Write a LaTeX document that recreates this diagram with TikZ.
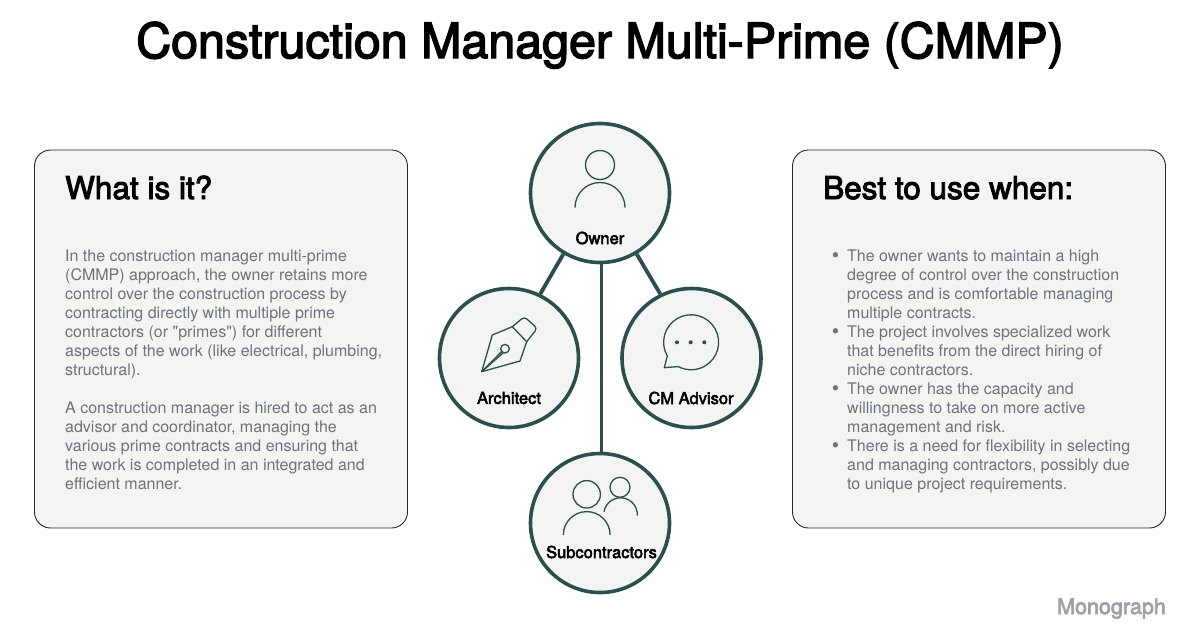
\documentclass[tikz,border=0pt]{standalone}
\usepackage{fontspec}
\usepackage{graphicx}
\setmainfont{TeX Gyre Heros}
\newfontfamily\medfont[FakeBold=3]{TeX Gyre Heros}
\newfontfamily\bodyfont{TeX Gyre Heros}
\usetikzlibrary{backgrounds}
\definecolor{teal}{HTML}{2A4F4D}
\definecolor{panel}{HTML}{F4F4F2}
\definecolor{bodygrey}{HTML}{6B7280}
\definecolor{edgeink}{HTML}{1B2A30}
\definecolor{markgrey}{HTML}{9AA1AB}
\newcommand{\dotmark}{\llap{\raisebox{-1.2pt}{\fontsize{21}{19}\selectfont •}\hspace{8pt}}}
\tikzset{
  panelbox/.style={draw=edgeink,line width=0.9pt,fill=panel,rounded corners=16pt,minimum width=373pt,minimum height=378pt,inner sep=0pt},
  rolecircle/.style={circle,draw=teal,line width=3.6pt,fill=panel,minimum size=139pt,inner sep=0pt},
  link/.style={draw=teal,line width=3.8pt},
  glyph/.style={draw=teal,line width=1.3pt},
  rolelabel/.style={font=\medfont\fontsize{16.5}{18}\selectfont,text=black,inner sep=0pt},
  headtext/.style={font=\medfont\fontsize{31.5}{38}\selectfont,text=black,anchor=base west,inner sep=0pt},
  bodytext/.style={font=\bodyfont\fontsize{16}{19}\selectfont,text=bodygrey,align=left,anchor=north west,inner sep=0pt},
}
\begin{document}
\begin{tikzpicture}[x=1pt,y=-1pt]
\useasboundingbox (0,0) rectangle (1200,630);
\node[font=\medfont\fontsize{48.4}{56}\selectfont,text=black,anchor=base,inner sep=0pt] (title) at (600,58) {Construction Manager Multi-Prime (CMMP)};

\node[panelbox] (leftpanel) at (221,339) {};
\node[panelbox] (rightpanel) at (979,339) {};
\node[headtext] (lefthead) at (65,199) {What is it?};
\node[headtext] (righthead) at (823,199) {Best to use when:};
\node[bodytext] (leftbody) at (65,249.5) {In the construction manager multi-prime\\(CMMP) approach, the owner retains more\\control over the construction process by\\contracting directly with multiple prime\\contractors (or "primes") for different\\aspects of the work (like electrical, plumbing,\\structural).\\[19pt]A construction manager is hired to act as an\\advisor and coordinator, managing the\\various prime contracts and ensuring that\\the work is completed in an integrated and\\efficient manner.};
\node[bodytext] (rightbody) at (847,249.5) {\dotmark The owner wants to maintain a high\\degree of control over the construction\\process and is comfortable managing\\multiple contracts.\\\dotmark The project involves specialized work\\that benefits from the direct hiring of\\niche contractors.\\\dotmark The owner has the capacity and\\willingness to take on more active\\management and risk.\\\dotmark There is a need for flexibility in selecting\\and managing contractors, possibly due\\to unique project requirements.};

\node[rolecircle] (owner) at (600,193) {};
\node[rolecircle] (architect) at (509,358) {};
\node[rolecircle] (advisor) at (691.5,358) {};
\node[rolecircle] (subs) at (600,523) {};
\begin{scope}[on background layer]
\fill[white] (0,0) rectangle (1200,630);
\draw[link] (owner.239) -- (architect.64);
\draw[link] (owner.301) -- (advisor.116);
\draw[link] ([xshift=1.5pt]owner.south) -- ([xshift=1.5pt]subs.north);
\end{scope}

\node[rolelabel] (ownerlabel) at (600,238) {Owner};
\node[rolelabel] (architectlabel) at (509,398) {Architect};
\node[rolelabel] (advisorlabel) at (691,398) {CM Advisor};
\node[rolelabel] (subslabel) at (601.5,552) {Subcontractors};

% owner icon
\draw[glyph] (600,165) circle[radius=14.5pt];
\draw[glyph] (575,207.5) arc[start angle=180,end angle=0,radius=25pt];
% pen icon
\draw[glyph,line join=round] (481.7,371.7) -- (492.3,335) -- (512.3,326.7) -- (526.7,341.7) -- (520,361) -- cycle;
\draw[glyph,rounded corners=3.5pt] (512.3,326.7) -- (524.3,316.7) -- (537.3,328.3) -- (526.7,341.7);
\draw[glyph] (505,348.7) circle[radius=4.3pt];
\draw[glyph] (481.7,371.7) -- (501.6,351.5);
\draw[glyph] (481.7,371.7) -- (503.2,352.8);
% chat icon
\draw[glyph,line join=round] (667.3,356) arc[start angle=210,end angle=-118,radius=27.5pt] -- (664.3,367.7) -- cycle;
\fill[teal] (677,342.3) circle[radius=2pt] (690.7,342.3) circle[radius=2pt] (704.3,342.3) circle[radius=2pt];
% people icon
\draw[glyph] (586.7,494.3) circle[radius=13.7pt];
\draw[glyph] (563.3,535) arc[start angle=180,end angle=0,radius=23.4pt];
\draw[glyph] (620,487.3) circle[radius=10pt];
\draw[glyph] (604,511.7) arc[start angle=170,end angle=-3,radius=16.8pt];

\node[font=\medfont\fontsize{21.5}{24}\selectfont,text=markgrey,anchor=base east,inner sep=0pt] (brand) at (1166,614) {Monograph};
\end{tikzpicture}
\end{document}
